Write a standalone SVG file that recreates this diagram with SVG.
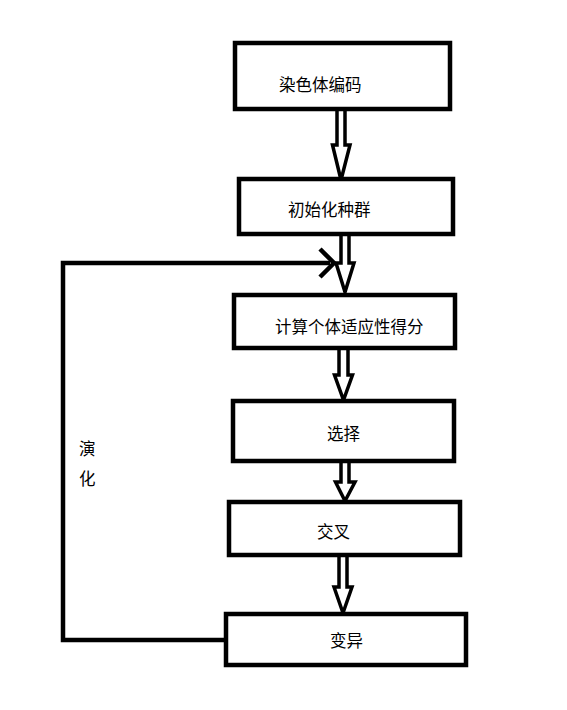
<svg xmlns="http://www.w3.org/2000/svg" width="567" height="710" viewBox="0 0 567 710">
<style>
.box{fill:#fff;stroke:#000;stroke-width:4.5}
.t{font-family:"Noto Sans CJK SC","Noto Sans",sans-serif;font-size:16.5px;fill:#000}
.arr{fill:#fff;stroke:#000;stroke-width:3.5;stroke-linejoin:miter}
.line{fill:none;stroke:#000;stroke-width:4.5}
</style>
<rect width="567" height="710" fill="#fff"/>
<g id="connectors">
<path class="line" d="M226,640 H63 V263 H330"/>
<path class="line" d="M320,249 L334,263 L320,277" stroke-linejoin="miter"/>
<path class="arr" d="M337,111 V145 L332.5,145 L341,180 L350,145 L345,145 V111"/>
<path class="arr" d="M341,236 V263 L336,263 L345,292 L354,263 L349,263 V236"/>
<path class="arr" d="M339,350 V375 L334.5,375 L343.5,400 L352.5,375 L348,375 V350"/>
<path class="arr" d="M341,463 V482 L335.5,482 L345,501 L355,482 L349,482 V463"/>
<path class="arr" d="M339,557 V587 L334,587 L343,613 L352,587 L347,587 V557"/>
</g>
<g id="n1"><rect class="box" x="235" y="43" width="215" height="66"/><text class="t" x="279" y="91">染色体编码</text></g>
<g id="n2"><rect class="box" x="239" y="179" width="214" height="55"/><text class="t" x="288" y="216">初始化种群</text></g>
<g id="n3"><rect class="box" x="234" y="295" width="221" height="53"/><text class="t" x="275" y="333">计算个体适应性得分</text></g>
<g id="n4"><rect class="box" x="233" y="401" width="221" height="60"/><text class="t" x="327" y="440">选择</text></g>
<g id="n5"><rect class="box" x="229" y="502" width="231" height="53"/><text class="t" x="317" y="538">交叉</text></g>
<g id="n6"><rect class="box" x="226" y="614" width="240" height="51"/><text class="t" x="330" y="647">变异</text></g>
<g id="label"><text class="t" x="79" y="455">演</text><text class="t" x="79" y="485">化</text></g>
</svg>
